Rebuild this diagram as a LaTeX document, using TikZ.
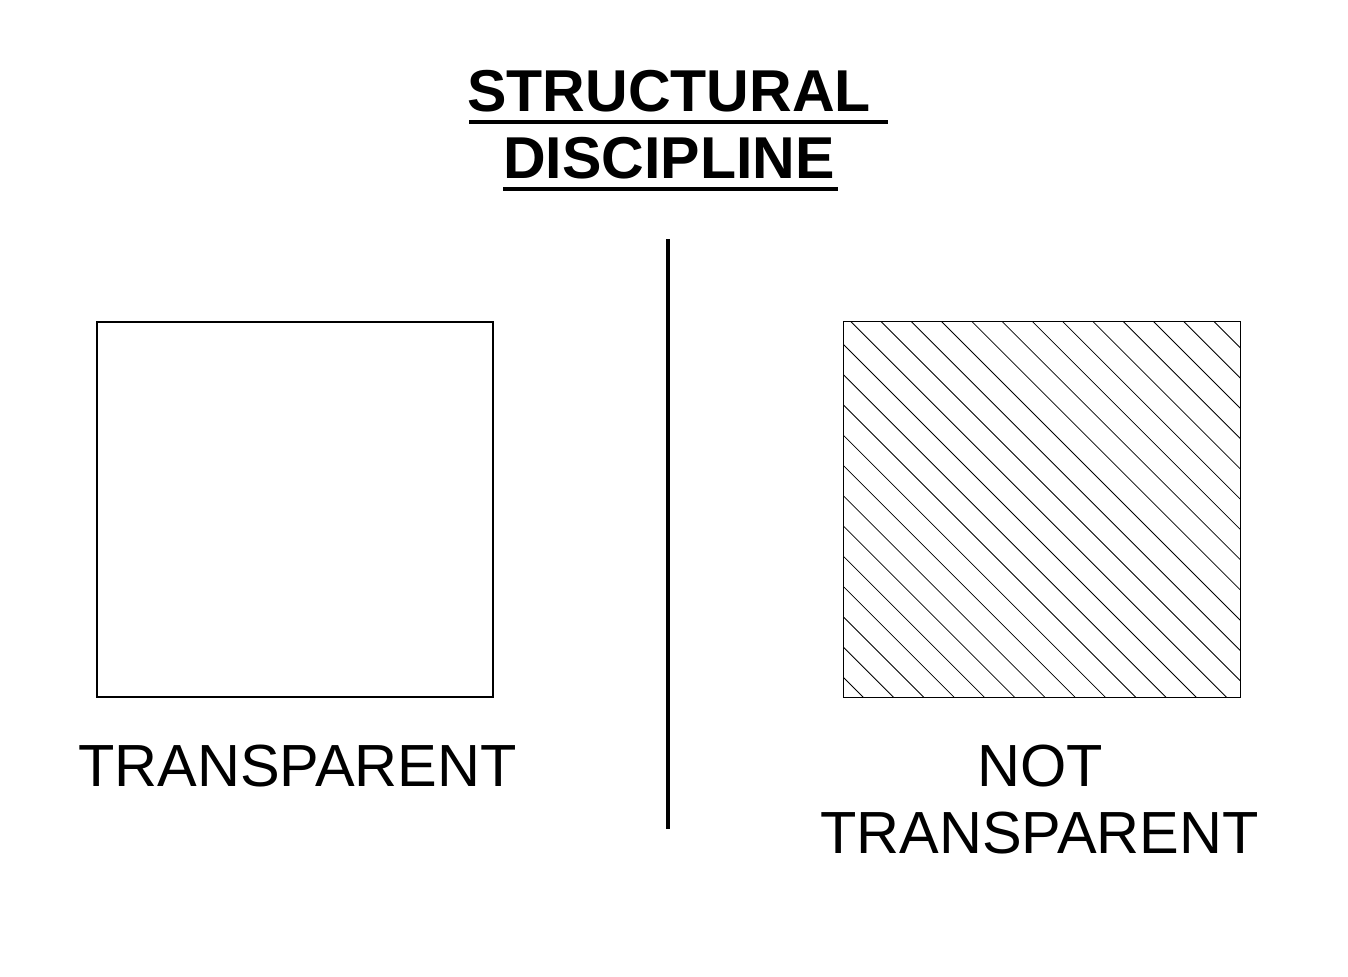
\documentclass[tikz,border=0pt]{standalone}
\usepackage{fontspec}
\setmainfont{Liberation Sans}
\begin{document}
\begin{tikzpicture}[x=0.75pt,y=-0.75pt,
  lbl/.style={anchor=base, inner sep=0pt, font=\fontsize{44.6}{50}\selectfont},
  ttl/.style={anchor=base, inner sep=0pt, font=\fontsize{44.3}{50}\selectfont\bfseries},
  panel/.style={draw, line width=0.8pt, inner sep=0pt, minimum width=297pt, minimum height=281.25pt},
  hatchline/.style={line width=0.6pt},
  uline/.style={line width=3pt},
  divider/.style={line width=2.4pt}]
\useasboundingbox[fill=white] (0,0) rectangle (1348,977);

% title
\node[ttl] (t1) at (669,111.5) {STRUCTURAL};
\node[ttl] (t2) at (669,178.5) {DISCIPLINE};
\coordinate (u1a) at (469,122);
\coordinate (u1b) at (888,122);
\coordinate (u2a) at (503,189);
\coordinate (u2b) at (838,189);
\draw[uline] (u1a) -- (u1b);
\draw[uline] (u2a) -- (u2b);

% divider
\coordinate (dtop) at (668,239);
\coordinate (dbot) at (668,829);
\draw[divider] (dtop) -- (dbot);

% left panel
\node[panel] (lb) at (295,509.5) {};
\node[lbl] (lt) at (297.5,786) {TRANSPARENT};

% right panel (hatched)
\node[panel, draw=none] (hb) at (1042,509.5) {};
\begin{scope}
  \clip (hb.south west) rectangle (hb.north east);
  \foreach \k in {0,...,24} {
    \pgfmathsetmacro\cc{166+30.27*\k}
    \draw[hatchline] (\cc+300,300) -- (\cc+720,720);
  }
\end{scope}
\draw[line width=1pt] (hb.south west) rectangle (hb.north east);
\node[lbl] (rt1) at (1040,786) {NOT};
\node[lbl] (rt2) at (1039.5,853) {TRANSPARENT};
\end{tikzpicture}
\end{document}
